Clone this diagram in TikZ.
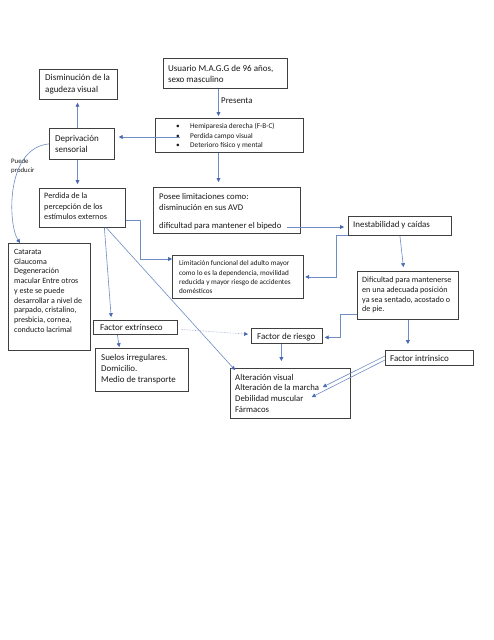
\documentclass[tikz,border=0pt]{standalone}
\usepackage{fontspec}
\setmainfont{Carlito}
\usetikzlibrary{arrows.meta}
\definecolor{boxc}{RGB}{64,64,64}
\definecolor{lnc}{RGB}{110,140,198}
\definecolor{arc}{RGB}{72,105,178}
\definecolor{txc}{RGB}{25,25,25}
\definecolor{dotc}{RGB}{150,165,200}
\begin{document}
\begin{tikzpicture}[x=1pt,y=-1pt,
  bx/.style={draw=boxc, line width=0.8pt, inner sep=0pt, anchor=north west},
  tx/.style={inner sep=0pt, anchor=north west, align=left, text=txc},
  cn/.style={draw=lnc, line width=0.6pt, -{Triangle[width=3.8pt,length=3.8pt,color=arc]}},
]
\fill[white] (0,0) rectangle (494,640);
\useasboundingbox (0,0) rectangle (494,640);

% boxes
\node[bx, minimum width=124pt, minimum height=30pt] (usr) at (163,58) {};
\node[bx, minimum width=78pt, minimum height=30pt] (dis) at (39,69) {};
\node[bx, minimum width=148pt, minimum height=34pt] (bul) at (155,118) {};
\node[bx, minimum width=65pt, minimum height=31pt] (dep) at (49,128) {};
\node[bx, minimum width=86pt, minimum height=39pt] (per) at (39,188) {};
\node[bx, minimum width=147pt, minimum height=46pt] (pos) at (153,187) {};
\node[bx, minimum width=103pt, minimum height=19pt] (ine) at (348,216) {};
\node[bx, minimum width=131pt, minimum height=43pt] (lim) at (172,255) {};
\node[bx, minimum width=101pt, minimum height=48pt] (dif) at (357,271) {};
\node[bx, minimum width=82pt, minimum height=107pt] (cat) at (8,243) {};
\node[bx, minimum width=84pt, minimum height=14pt] (fex) at (93,320) {};
\node[bx, minimum width=93pt, minimum height=43pt] (sue) at (95,348) {};
\node[bx, minimum width=71pt, minimum height=15pt] (fri) at (251,328) {};
\node[bx, minimum width=88pt, minimum height=15pt] (fin) at (385,350) {};
\node[bx, minimum width=120pt, minimum height=50pt] (alt) at (230,368) {};

% texts
\node[tx, font=\fontsize{9}{10.5}\selectfont] (usrT) at (168,65.5) {Usuario M.A.G.G de 96 años,\\sexo masculino};
\node[tx, font=\fontsize{9}{12}\selectfont] (disT) at (45,74.5) {Disminución de la\\agudeza visual};
\node[tx, font=\fontsize{7.3}{9.5}\selectfont] (bulT) at (176,123) {\makebox[14pt][l]{•}Hemiparesia derecha (F-B-C)\\\makebox[14pt][l]{•}Perdida campo visual\\\makebox[14pt][l]{•}Deterioro físico y mental};
\node[tx, font=\fontsize{9}{11}\selectfont] (depT) at (55,135.5) {Deprivación\\sensorial};
\node[tx, font=\fontsize{8.2}{10.5}\selectfont] (perT) at (44,193) {Perdida de la\\percepción de los\\estímulos externos};
\node[tx, font=\fontsize{8.7}{11}\selectfont] (posT) at (159,193.5) {Posee limitaciones como:\\disminución en sus AVD\\[6.5pt]dificultad para mantener el bipedo};
\node[tx, font=\fontsize{8.9}{11}\selectfont] (ineT) at (353,221) {Inestabilidad y caídas};
\node[tx, font=\fontsize{7.2}{9.4}\selectfont] (limT) at (179,260.5) {Limitación funcional del adulto mayor\\como lo es la dependencia, movilidad\\reducida y mayor riesgo de accidentes\\domésticos};
\node[tx, font=\fontsize{8.1}{9.6}\selectfont] (difT) at (362,277) {Dificultad para mantenerse\\en una adecuada posición\\ya sea sentado, acostado o\\de pie.};
\node[tx, font=\fontsize{8}{9.75}\selectfont] (catT) at (14,249) {Catarata\\Glaucoma\\Degeneración\\macular Entre otros\\y este se puede\\desarrollar a nivel de\\parpado, cristalino,\\presbicia, cornea,\\conducto lacrimal};
\node[tx, font=\fontsize{9}{11}\selectfont] (fexT) at (100,324.5) {Factor extrínseco};
\node[tx, font=\fontsize{8.9}{11}\selectfont] (sueT) at (101,354.5) {Suelos irregulares.\\Domicilio.\\Medio de transporte};
\node[tx, font=\fontsize{9}{11}\selectfont] (friT) at (257,333) {Factor de riesgo};
\node[tx, font=\fontsize{9}{11}\selectfont] (finT) at (390,355) {Factor intrinsico};
\node[tx, font=\fontsize{8.75}{10.7}\selectfont] (altT) at (235,374) {Alteración visual\\Alteración de la marcha\\Debilidad muscular\\Fármacos};

% labels
\node[tx, font=\fontsize{8.8}{11}\selectfont] (presT) at (221,97.5) {Presenta};
\node[tx, font=\fontsize{6.8}{9}\selectfont] (pueT) at (11,159) {Puede\\producir};

% helper coordinates
\coordinate (b2) at (180,137);
\coordinate (bp) at (287,227);
\coordinate (vx) at (77.5,0);
\coordinate (ax) at (218.5,0);

% connectors
\draw[cn, shorten >=2pt] (ax |- usr.south) -- (ax |- bul.north);
\draw[cn, shorten >=4pt] (b2) -- (b2 -| dep.east);
\draw[cn, shorten >=3pt] (vx |- dep.north) -- (vx |- dis.south);
\draw[cn, shorten >=4pt] (vx |- dep.south) -- (vx |- per.north);
\draw[cn] (dep.west) .. controls (5,148) and (8,225) .. ([xshift=12pt]cat.north west);
\draw[cn, shorten >=5pt] (ax |- bul.south) -- (ax |- pos.north);
\draw[cn, shorten >=4pt] (bp) -- (bp -| ine.west);
\draw[cn, shorten >=1.5pt] ([yshift=1pt]ine.south west) -- ++(-12,0) |- (lim.east);
\draw[cn, shorten >=4pt] (ine.south) -- ([xshift=-4pt]dif.north);
\draw[cn] ([yshift=8pt]per.south east) -- ++(14,0) |- ([yshift=-4pt]lim.north west);
\draw[cn, shorten >=3pt] ([xshift=22pt]per.south) -- ([xshift=-24pt]fex.north);
\draw[cn] ([xshift=24pt]per.south) -- ([xshift=5pt,yshift=-2pt]alt.north west);
\draw[cn, shorten >=1pt] ([xshift=-18pt]fex.south) -- ([xshift=-22.5pt]sue.north);
\draw[cn, draw=dotc, densely dotted, shorten >=3pt] ([xshift=3pt,yshift=-2pt]fex.east) -- ([yshift=1.5pt]fri.west);
\draw[cn, shorten >=2pt] ([yshift=6pt]dif.south west) -- ++(-17,0) |- ([yshift=-1.5pt]fri.east);
\draw[cn, shorten >=7pt] ([xshift=-5.5pt]fri.south) -- ([xshift=-5.5pt]fri.south |- alt.north);
\draw[cn, shorten >=6pt] (dif.south) -- (dif.south |- fin.north);
\draw[cn] ([yshift=-6pt]fin.north west) -- ([xshift=-28pt,yshift=-19pt]alt.north east);
\draw[cn] ([yshift=-10pt]fin.north west) -- ([xshift=-39pt,yshift=-29pt]alt.north east);
\end{tikzpicture}
\end{document}
